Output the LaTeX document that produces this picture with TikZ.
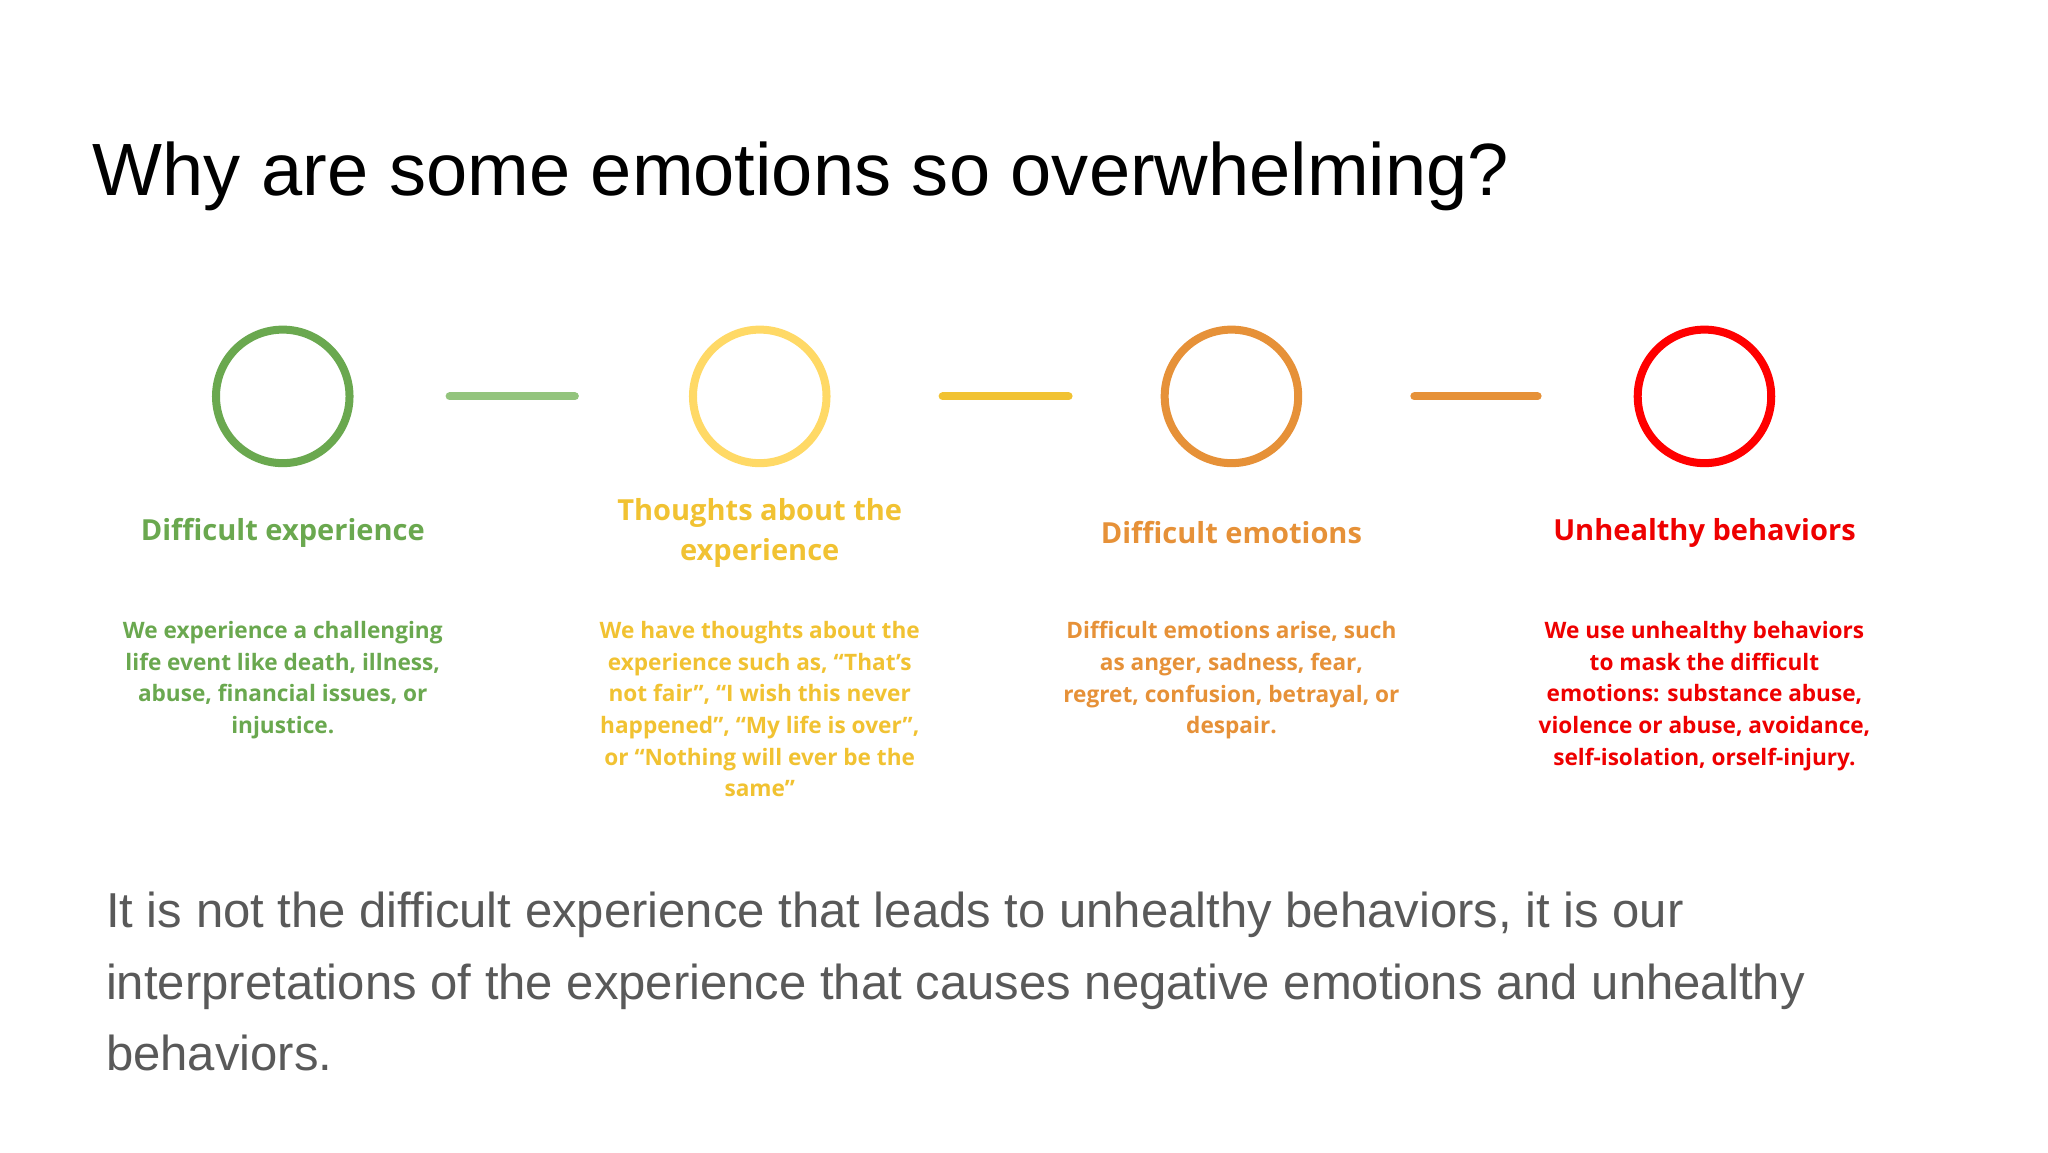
\documentclass[tikz,border=0pt]{standalone}
\usepackage{fontspec}
\setmainfont{Liberation Sans}
\newfontfamily\labfont{Open Sans}
\begin{document}
\begin{tikzpicture}[x=0.66pt,y=-0.66pt,
  ring/.style={circle,draw=#1,line width=4pt,minimum size=66.7pt,inner sep=0pt},
  conn/.style={draw=#1,line width=4pt,line cap=round},
  lab/.style={text=#1,font=\labfont\bfseries\fontsize{14.5}{20}\selectfont,align=center},
  desc/.style={text=#1,font=\labfont\bfseries\fontsize{11.3}{15.8}\selectfont,align=center,anchor=north}]
\useasboundingbox (0,0) rectangle (1550,872);
\definecolor{g1}{HTML}{6AA84F}\definecolor{g2}{HTML}{93C47D}
\definecolor{y1}{HTML}{FFD966}\definecolor{y2}{HTML}{F1C232}
\definecolor{o1}{HTML}{E69138}\definecolor{r1}{HTML}{FF0000}
\definecolor{rt}{HTML}{EE0000}\definecolor{gr}{HTML}{595959}
\node[anchor=base west,font=\fontsize{37}{44}\selectfont,inner sep=0pt] (title) at (70,148) {Why are some emotions so overwhelming?};
\node[ring=g1] (c1) at (214,300) {};
\node[ring=y1] (c2) at (575,300) {};
\node[ring=o1] (c3) at (932,300) {};
\node[ring=r1] (c4) at (1290,300) {};
\draw[conn=g2,shorten <=48pt,shorten >=57pt] (c1.east) -- (c2.west);
\draw[conn=y2,shorten <=56pt,shorten >=46pt] (c2.east) -- (c3.west);
\draw[conn=o1,shorten <=56pt,shorten >=48pt] (c3.east) -- (c4.west);
\node[lab=g1] (l1) at (214,403) {Difficult experience};
\node[lab=y2] (l2) at (575,403) {Thoughts about the\\experience};
\node[lab=o1] (l3) at (932,403) {Difficult emotions};
\node[lab=rt] (l4) at (1290,403) {Unhealthy behaviors};
\node[desc=g1] (d1) at (214,465) {We experience a challenging\\life event like death, illness,\\abuse, financial issues, or\\injustice.};
\node[desc=y2] (d2) at (575,465) {We have thoughts about the\\experience such as, “That’s\\not fair”, “I wish this never\\happened”, “My life is over”,\\or “Nothing will ever be the\\same”};
\node[desc=o1] (d3) at (932,465) {Difficult emotions arise, such\\as anger, sadness, fear,\\regret, confusion, betrayal, or\\despair.};
\node[desc=rt] (d4) at (1290,465) {We use unhealthy behaviors\\to mask the difficult\\emotions: substance abuse,\\violence or abuse, avoidance,\\self-isolation, orself-injury.};
\node[anchor=north west,align=left,text=gr,inner sep=0pt,font=\fontsize{24.5}{35.6}\selectfont] (foot) at (80,675) {It is not the difficult experience that leads to unhealthy behaviors, it is our\\interpretations of the experience that causes negative emotions and unhealthy\\behaviors.};
\end{tikzpicture}
\end{document}
